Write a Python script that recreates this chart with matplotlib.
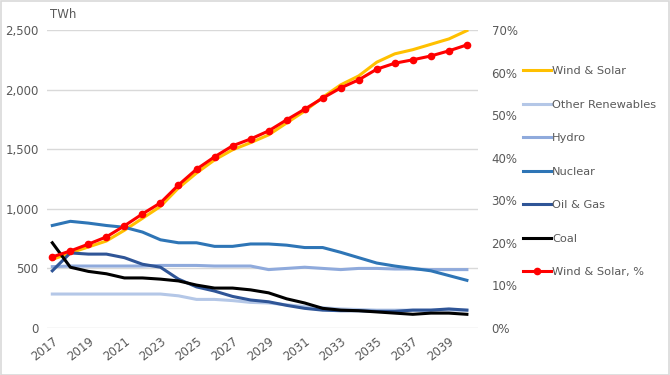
import matplotlib
matplotlib.use("Agg")
import matplotlib.pyplot as plt
from matplotlib.patches import Rectangle
from matplotlib.ticker import FuncFormatter, MultipleLocator

years = list(range(2017, 2041))
tick_years = list(range(2017, 2041, 2))

wind_solar = [575, 630, 680, 730, 820, 920, 1020, 1175, 1300, 1410, 1495, 1555,
              1620, 1720, 1820, 1935, 2040, 2115, 2230, 2300, 2335, 2380, 2425, 2495]
other_ren = [285, 285, 285, 285, 285, 285, 285, 270, 240, 240, 230, 215,
             210, 195, 180, 170, 160, 155, 150, 150, 150, 150, 150, 150]
hydro = [515, 520, 520, 520, 520, 520, 525, 525, 525, 520, 520, 520,
         490, 500, 510, 500, 490, 500, 500, 495, 495, 490, 490, 490]
nuclear = [860, 895, 880, 860, 845, 805, 740, 715, 715, 685, 685, 705,
           705, 695, 675, 675, 635, 590, 545, 520, 500, 480, 440, 400]
oil_gas = [480, 630, 620, 620, 590, 535, 510, 410, 345, 310, 265, 235,
           220, 190, 165, 150, 145, 145, 140, 140, 150, 150, 160, 150]
coal = [715, 510, 475, 455, 420, 420, 410, 395, 360, 335, 335, 320,
        295, 245, 210, 165, 150, 145, 135, 125, 115, 125, 125, 115]
share_pct = [16.7, 18.1, 19.7, 21.4, 24.0, 26.8, 29.4, 33.6, 37.3, 40.2, 42.8, 44.4,
             46.3, 48.9, 51.4, 54.0, 56.4, 58.3, 60.8, 62.2, 63.0, 63.9, 65.1, 66.5]

TXT = "#595959"
GRID = "#D9D9D9"

fig = plt.figure(figsize=(6.7, 3.75), dpi=100)
fig.patch.set_facecolor("white")
fig.patches.append(Rectangle((0.001, 0.001), 0.997, 0.997, transform=fig.transFigure,
                             fill=False, edgecolor=GRID, linewidth=1.2))

ax = fig.add_axes([0.070, 0.1253, 0.643, 0.7947])
lw = 2.2
series = [
    (wind_solar, "#FFC000", "Wind & Solar"),
    (other_ren, "#B4C7E7", "Other Renewables"),
    (hydro, "#8FAADC", "Hydro"),
    (nuclear, "#2E75B6", "Nuclear"),
    (oil_gas, "#2F5597", "Oil & Gas"),
    (coal, "#000000", "Coal"),
]
handles = []
for vals, col, lab in series:
    h, = ax.plot(years, vals, color=col, lw=lw, label=lab, solid_joinstyle="round", zorder=3)
    handles.append(h)

ax.set_ylim(0, 2500)
ax.set_xlim(2016.7, 2040.6)
ax.yaxis.set_major_locator(MultipleLocator(500))
ax.yaxis.set_major_formatter(FuncFormatter(lambda v, p: f"{int(v):,}"))
ax.set_xticks(tick_years)
ax.set_xticklabels([str(y) for y in tick_years], rotation=38, ha="right",
                   rotation_mode="anchor")
ax.grid(axis="y", color=GRID, lw=1)
ax.set_axisbelow(True)
for s in ax.spines.values():
    s.set_visible(False)
ax.tick_params(axis="both", length=0, labelsize=8.5, labelcolor=TXT)
ax.tick_params(axis="y", pad=6)
ax.tick_params(axis="x", pad=5)

ax2 = ax.twinx()
h2, = ax2.plot(years, share_pct, color="#FF0000", lw=lw, marker="o", markersize=4.5,
               label="Wind & Solar, %", zorder=4)
handles.append(h2)
ax2.set_ylim(0, 70)
ax2.yaxis.set_major_locator(MultipleLocator(10))
ax2.yaxis.set_major_formatter(FuncFormatter(lambda v, p: f"{int(v)}%"))
for s in ax2.spines.values():
    s.set_visible(False)
ax2.tick_params(axis="y", length=0, labelsize=8.5, labelcolor=TXT, pad=10)

fig.text(0.075, 0.962, "TWh", fontsize=8.5, color=TXT, va="center", ha="left")

leg = fig.legend(handles=handles, loc="upper left", bbox_to_anchor=(0.781, 0.824),
                 frameon=False, fontsize=8.2, labelspacing=2.07, handlelength=2.4,
                 handletextpad=0.15, borderpad=0, borderaxespad=0)
for t in leg.get_texts():
    t.set_color(TXT)

fig.savefig("out.png", dpi=100)
